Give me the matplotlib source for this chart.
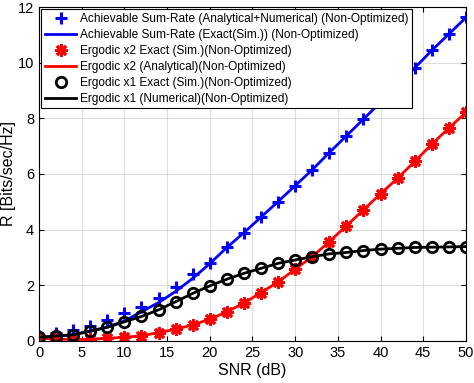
import matplotlib.pyplot as plt

plt.rcParams['font.family'] = ['Liberation Sans', 'DejaVu Sans']

snr = list(range(0, 51, 2))

sum_rate_markers = [0.18, 0.28, 0.40, 0.54, 0.76, 1.00, 1.21, 1.53, 1.95, 2.41, 2.82,
                    3.39, 3.87, 4.45, 5.01, 5.58, 6.15, 6.77, 7.37, 7.97, 8.58, 9.20,
                    9.81, 10.44, 11.03, 11.64]
sum_rate_line = [0.12, 0.17, 0.23, 0.35, 0.50, 0.72, 1.05, 1.38, 1.78, 2.25, 2.78,
                 3.36, 3.89, 4.45, 5.01, 5.58, 6.15, 6.77, 7.37, 7.97, 8.58, 9.20,
                 9.81, 10.44, 11.03, 11.62]
x2_vals = [0.10, 0.07, 0.05, 0.06, 0.10, 0.13, 0.19, 0.30, 0.42, 0.58, 0.78,
           1.05, 1.36, 1.74, 2.12, 2.58, 3.03, 3.57, 4.14, 4.71, 5.29, 5.85,
           6.45, 7.07, 7.65, 8.21]
x1_vals = [0.13, 0.18, 0.22, 0.36, 0.49, 0.69, 0.88, 1.12, 1.41, 1.71, 1.98,
           2.22, 2.43, 2.61, 2.79, 2.91, 3.03, 3.13, 3.18, 3.25, 3.30, 3.33,
           3.36, 3.37, 3.38, 3.39]

fig = plt.figure(figsize=(4.74, 3.83), dpi=100)
ax = fig.add_axes([0.0823, 0.1097, 0.9007, 0.872])

ax.plot(snr, sum_rate_markers, '+', color='blue', ms=9, mew=2.2,
        label='Achievable Sum-Rate (Analytical+Numerical) (Non-Optimized)')
ax.plot(snr, sum_rate_line, '-', color='blue', lw=2,
        label='Achievable Sum-Rate (Exact(Sim.)) (Non-Optimized)')
ax.plot(snr, x2_vals, marker=(8, 2, 0), ls='none', color='red', ms=9, mew=2,
        label='Ergodic x2 Exact (Sim.)(Non-Optimized)')
ax.plot(snr, x2_vals, '-', color='red', lw=2,
        label='Ergodic x2 (Analytical)(Non-Optimized)')
ax.plot(snr, x1_vals, 'o', color='black', mfc='none', ms=7.5, mew=2,
        label='Ergodic x1 Exact (Sim.)(Non-Optimized)')
ax.plot(snr, x1_vals, '-', color='black', lw=2,
        label='Ergodic x1 (Numerical)(Non-Optimized)')

ax.set_xlim(0, 50)
ax.set_ylim(0, 12)
ax.set_xticks(range(0, 51, 5))
ax.set_yticks(range(0, 13, 2))
ax.tick_params(direction='in', labelsize=10.5, top=True, right=True)
ax.grid(color='#dddddd', linewidth=0.8)
ax.set_axisbelow(True)
ax.set_xlabel('SNR (dB)', fontsize=11.5, labelpad=2)
ax.set_ylabel('R [Bits/sec/Hz]', fontsize=11.5, labelpad=1)

leg = ax.legend(loc='upper left', fontsize=8.6, fancybox=False, framealpha=1,
                edgecolor='black', handlelength=2.6, borderaxespad=0.2,
                borderpad=0.3, labelspacing=0.33, handletextpad=0.3)
leg.get_frame().set_linewidth(0.8)

fig.savefig('out.png', dpi=100)
